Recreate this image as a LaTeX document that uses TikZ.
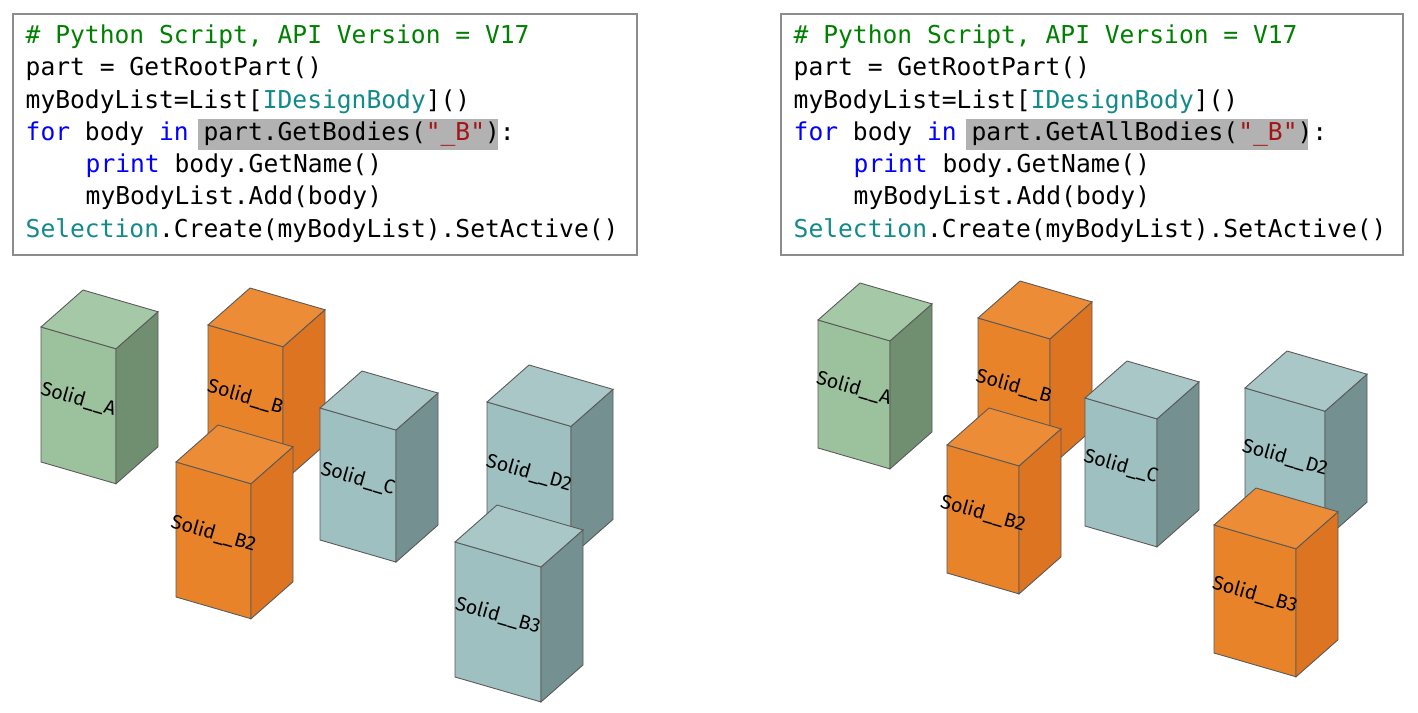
\documentclass[tikz,border=0pt]{standalone}
\usepackage{fontspec}
\setmainfont{Fira Sans}
\setmonofont{DejaVu Sans Mono}
\begin{document}
\definecolor{grn-f}{HTML}{9CC19D}\definecolor{grn-s}{HTML}{708F70}\definecolor{grn-t}{HTML}{A5C8A6}
\definecolor{org-f}{HTML}{E8832A}\definecolor{org-s}{HTML}{DC7422}\definecolor{org-t}{HTML}{EC8C36}
\definecolor{tea-f}{HTML}{9EC0C0}\definecolor{tea-s}{HTML}{749090}\definecolor{tea-t}{HTML}{A9C7C7}
\definecolor{cmt}{HTML}{008000}\definecolor{kw}{HTML}{0000FF}\definecolor{typ}{HTML}{138A8A}\definecolor{str}{HTML}{A31515}
\newcommand\mybox[7]{%
  \path (#1,#2) coordinate (#7a) ++(#3,0.29*#3) coordinate (#7b) ++(42,-37) coordinate (#7c) ++(-#3,-0.29*#3) coordinate (#7d);
  \filldraw[edge,fill=#5-f] (#7a)--(#7b)--++(0,#4)--++(-#3,-0.29*#3)--cycle;
  \filldraw[edge,fill=#5-s] (#7b)--(#7c)--++(0,#4)--++(-42,37)--cycle;
  \filldraw[edge,fill=#5-t] (#7a)--(#7b)--(#7c)--(#7d)--cycle;
  \node[lbl] (#7) at ($(#7a)+(0.5*#3,0.145*#3+0.45*#4)$) {#6};}
\begin{tikzpicture}[x=0.01cm,y=-0.01cm,
  edge/.style={draw=black!65,line width=0.25pt},
  lbl/.style={font=\fontsize{5.6pt}{6pt}\selectfont,rotate=-16,inner sep=0},
  code/.style={font=\ttfamily\fontsize{7pt}{8pt}\selectfont,anchor=west,inner sep=0},
  panel/.style={draw=black!45,line width=0.5pt,fill=white},
  hl/.style={fill=black!30,draw=none}]
\usetikzlibrary{calc}
\useasboundingbox (0,0) rectangle (1418,712);
% left code box
\draw[panel] (13,14) rectangle (637,255);
\fill[hl] (198,119) rectangle (498,150);
\node[code] (l1) at (25,37) {\textcolor{cmt}{\# Python Script, API Version = V17}};
\node[code] (l2) at (25,69) {part = GetRootPart()};
\node[code] (l3) at (25,102) {myBodyList=List[\textcolor{typ}{IDesignBody}]()};
\node[code] (l4) at (25,134) {\textcolor{kw}{for} body \textcolor{kw}{in} part.GetBodies(\textcolor{str}{"\_B"}):};
\node[code] (l5) at (85,166) {\textcolor{kw}{print} body.GetName()};
\node[code] (l6) at (85,198) {myBodyList.Add(body)};
\node[code] (l7) at (25,231) {\textcolor{typ}{Selection}.Create(myBodyList).SetActive()};
% right code box
\draw[panel] (781,14) rectangle (1403,255);
\fill[hl] (966,119) rectangle (1308,150);
\node[code] (r1) at (793,37) {\textcolor{cmt}{\# Python Script, API Version = V17}};
\node[code] (r2) at (793,69) {part = GetRootPart()};
\node[code] (r3) at (793,102) {myBodyList=List[\textcolor{typ}{IDesignBody}]()};
\node[code] (r4) at (793,134) {\textcolor{kw}{for} body \textcolor{kw}{in} part.GetAllBodies(\textcolor{str}{"\_B"}):};
\node[code] (r5) at (853,166) {\textcolor{kw}{print} body.GetName()};
\node[code] (r6) at (853,198) {myBodyList.Add(body)};
\node[code] (r7) at (793,231) {\textcolor{typ}{Selection}.Create(myBodyList).SetActive()};
% left scene
\mybox{41}{327}{75}{135}{grn}{Solid\_\_A}{LA}
\mybox{208}{325}{75}{135}{org}{Solid\_\_B}{LB}
\mybox{320}{408}{76}{132}{tea}{Solid\_\_C}{LC}
\mybox{176}{462}{75}{135}{org}{Solid\_\_B2}{LBB}
\mybox{487}{402}{84}{130}{tea}{Solid\_\_D2}{LD}
\mybox{455}{542}{86}{135}{tea}{Solid\_\_B3}{LBBB}
% right scene
\mybox{818}{320}{72}{128}{grn}{Solid\_\_A}{RA}
\mybox{978}{318}{72}{128}{org}{Solid\_\_B}{RB}
\mybox{1085}{398}{72}{128}{tea}{Solid\_\_C}{RC}
\mybox{947}{445}{72}{128}{org}{Solid\_\_B2}{RBB}
\mybox{1245}{388}{80}{128}{tea}{Solid\_\_D2}{RD}
\mybox{1214}{525}{82}{128}{org}{Solid\_\_B3}{RBBB}
\end{tikzpicture}
\end{document}
